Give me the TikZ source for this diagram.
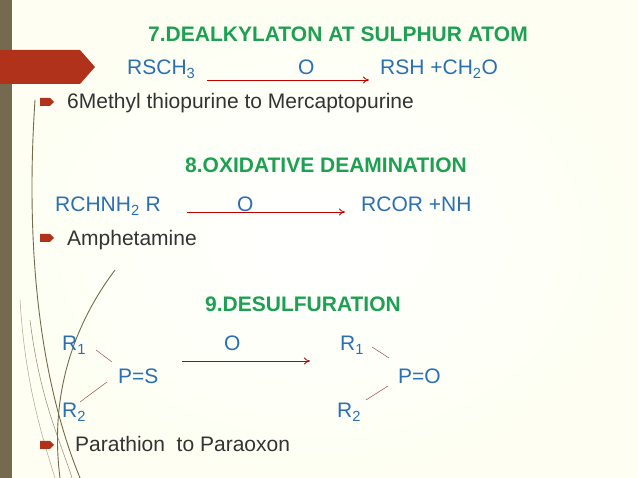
\documentclass[tikz,border=0pt]{standalone}
\usepackage{fontspec}
\setmainfont{Liberation Sans}
\usetikzlibrary{arrows.meta}
\begin{document}
\begin{tikzpicture}[x=1pt,y=-1pt,
  head/.style={anchor=base west,inner sep=0pt,text=hg,font=\fontsize{21}{24}\selectfont\bfseries},
  body/.style={anchor=base west,inner sep=0pt,text=bt,font=\fontsize{21}{24}\selectfont},
  dark/.style={anchor=base west,inner sep=0pt,text=black!80,font=\fontsize{21}{24}\selectfont},
  rarrow/.style={draw=red!75!black,line width=0.8pt,-{To[length=6pt,width=7pt]}},
  bond/.style={draw=red!50!black!70,line width=0.5pt},
  curve/.style={draw=olive!40!black!80,line width=0.9pt},
  bul/.style={fill=ban}]
\definecolor{hg}{HTML}{1DA052}
\definecolor{bt}{HTML}{2B6FB5}
\definecolor{bar}{HTML}{756A4F}
\definecolor{ban}{HTML}{B0321A}
\useasboundingbox (0,0) rectangle (638,478);
\shade[inner color=white,outer color=green!8!yellow!5!white] (0,0) rectangle (638,478);
\fill[bar] (0,0) rectangle (12,478);
\fill[ban] (0,50) -- (80,50) -- (95,67) -- (80,84) -- (0,84) -- cycle;
\draw[curve] (35,100) .. controls (25,250) and (40,380) .. (80,478);
\draw[curve] (115,270) .. controls (70,330) and (50,400) .. (60,478);
\draw[curve,line width=0.5pt,opacity=0.6] (20,300) .. controls (25,380) and (40,430) .. (55,478);
\draw[curve,line width=0.6pt,opacity=0.7] (30,320) .. controls (40,400) and (60,440) .. (72,478);
% section 7
\node[head] (h7) at (148,42) {7.DEALKYLATON AT SULPHUR ATOM};
\node[body] (r7) at (127,75) {RSCH\textsubscript{3}};
\node[body] (o7) at (298,75) {O};
\node[body] (p7) at (380,75) {RSH +CH\textsubscript{2}O};
\coordinate (a7s) at (207,80); \coordinate (a7e) at (369,80);
\draw[rarrow] (a7s) -- (a7e);
\fill[bul] (40,98) -- (50,98) -- (54,102) -- (50,106) -- (40,106) -- cycle;
\node[dark] (t7) at (67,109) {6Methyl thiopurine to Mercaptopurine};
% section 8
\node[head] (h8) at (185,173) {8.OXIDATIVE DEAMINATION};
\node[body] (r8) at (55,212) {RCHNH\textsubscript{2} R};
\node[body] (o8) at (237,212) {O};
\node[body] (p8) at (361,212) {RCOR +NH};
\coordinate (a8s) at (187,212); \coordinate (a8e) at (345,212);
\draw[rarrow] (a8s) -- (a8e);
\fill[bul] (40,234) -- (50,234) -- (54,238) -- (50,242) -- (40,242) -- cycle;
\node[dark] (t8) at (67,246) {Amphetamine};
% section 9
\node[head] (h9) at (205,312) {9.DESULFURATION};
\node[body] (r91) at (62,351) {R\textsubscript{1}};
\node[body] (o9) at (224,351) {O};
\node[body] (r91b) at (340,351) {R\textsubscript{1}};
\node[body] (ps) at (118,384) {P=S};
\node[body] (po) at (398,384) {P=O};
\node[body] (r92) at (62,418) {R\textsubscript{2}};
\node[body] (r92b) at (337,418) {R\textsubscript{2}};
\coordinate (a9s) at (182,361); \coordinate (a9e) at (310,361);
\draw[rarrow] (a9s) -- (a9e);
\draw[bond] (96,350) -- (112,362);
\draw[bond] (80,402) -- (107,382);
\draw[bond] (372,347) -- (389,358);
\draw[bond] (366,400) -- (388,386);
\fill[bul] (40,441) -- (50,441) -- (54,445) -- (50,449) -- (40,449) -- cycle;
\node[dark] (t9) at (75,452) {Parathion\ \ to Paraoxon};
\end{tikzpicture}
\end{document}
